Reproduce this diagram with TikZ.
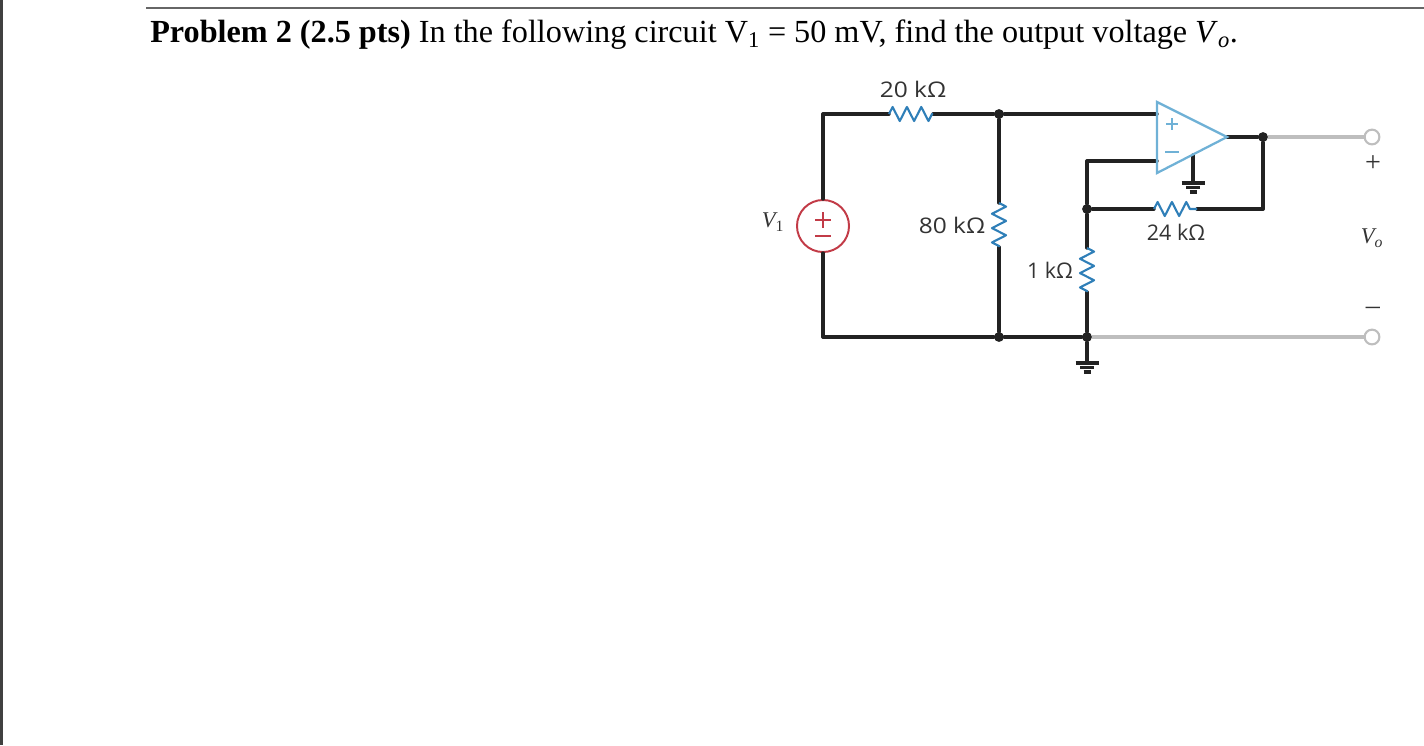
\documentclass[tikz,border=0pt]{standalone}
\usepackage{fontspec}
\setmainfont{Liberation Serif}
\newfontfamily\labelfont{Open Sans}
\usetikzlibrary{decorations.pathmorphing}
\definecolor{wirecol}{HTML}{222222}
\definecolor{ampcol}{HTML}{6FB1D6}
\definecolor{rescol}{HTML}{2F7FB8}
\definecolor{srccol}{HTML}{C23B47}
\definecolor{greycol}{HTML}{BEBEBE}
\definecolor{textcol}{HTML}{333333}
\tikzset{
    wire/.style={draw=wirecol, line width=2.4pt},
    lead/.style={draw=greycol, line width=2.3pt},
    resistor/.style={draw=rescol, line width=1.5pt, line join=round, decorate,
        decoration={zigzag, segment length=10.2pt, amplitude=5pt}},
    earth/.style={draw=wirecol, line width=2.2pt},
    dot/.style={circle, fill=wirecol, inner sep=0pt, minimum size=7pt},
    terminal/.style={circle, draw=greycol, fill=white, line width=1.5pt, inner sep=0pt, minimum size=10.5pt},
    value/.style={font=\labelfont\fontsize{15.3}{15}\selectfont, text=textcol, inner sep=0pt},
    sign/.style={font=\fontsize{20}{20}\selectfont, text=textcol, inner sep=0pt},
    volt/.style={font=\fontsize{16}{16}\selectfont\itshape, text=textcol, inner sep=0pt}
}
\begin{document}
\begin{tikzpicture}[x=0.025cm,y=-0.025cm]
    \useasboundingbox (0,0) rectangle (1424,745);
    \fill[black!75] (0,0) rectangle (3,745);
    \draw[black!60, line width=1.3pt] (146,8) -- (1424,8);
    \node[anchor=base west, inner sep=0pt, font=\fontsize{22.9}{24}\selectfont] (title) at (150,42)
        {\textbf{Problem 2 (2.5 pts)} In the following circuit V\textsubscript{1} = 50 mV, find the output voltage \textit{V}\textsubscript{\textit{o}}.};

    \node[circle, draw=srccol, line width=1.4pt, inner sep=0pt, minimum size=37pt] (src) at (823,226) {};
    \node[dot] (top) at (999,114) {};
    \node[dot] (bot) at (999,337) {};
    \node[dot] (gnd) at (1087,337) {};
    \node[dot] (fbin) at (1087,209) {};
    \node[dot] (out) at (1263,137) {};
    \node[terminal] (outp) at (1372,137) {};
    \node[terminal] (outn) at (1372,337) {};

    \coordinate (tl) at (823,114);
    \coordinate (bl) at (823,337);
    \coordinate (r20a) at (889,114);
    \coordinate (r20b) at (933,114);
    \coordinate (r80a) at (999,203);
    \coordinate (r80b) at (999,247);
    \coordinate (r1a) at (1087,248);
    \coordinate (r1b) at (1087,292);
    \coordinate (r24a) at (1154,209);
    \coordinate (r24b) at (1197,209);
    \coordinate (ampa) at (1157,102);
    \coordinate (ampb) at (1157,173);
    \coordinate (ampc) at (1227,137);
    \coordinate (inp) at (1157,114);
    \coordinate (inn) at (1157,161);
    \coordinate (inl) at (1087,161);
    \coordinate (fbr) at (1263,209);
    \coordinate (ampg) at (1193,155);
    \coordinate (ampe) at (1193,183);
    \coordinate (gnde) at (1087,363);

    \foreach \k/\l in {tl/r20a, r20b/top, top/inp, top/r80a, r80b/bot, bl/bot, bot/gnd,
        gnd/r1b, gnd/gnde, r1a/fbin, fbin/inl, inl/inn, fbin/r24a, r24b/fbr, fbr/out,
        ampc/out, ampg/ampe, src/tl, src/bl}{
        \draw[wire, line cap=round](\k)--(\l);
    }
    \foreach \k/\l in {r20a/r20b, r80a/r80b, r1a/r1b, r24a/r24b}{\draw[resistor](\k)--(\l);}
    \draw[lead](out)--(outp);
    \draw[lead](gnd)--(outn);

    \draw[draw=ampcol, line width=1.6pt, line join=miter](ampa)--(ampb)--(ampc)--cycle;
    \draw[ampcol, line width=0.8pt] (1166,124) -- (1178,124) (1172,118) -- (1172,130);
    \draw[ampcol, line width=0.8pt] (1165,152) -- (1179,152);
    \draw[srccol, line width=0.9pt] (815,220) -- (831,220) (823,212) -- (823,228) (815,236) -- (831,236);

    \foreach \x/\y in {1193/183, 1087/363}{
        \draw[earth] (\x-11.5,\y) -- (\x+11.5,\y);
        \draw[earth] (\x-7,\y+4.5) -- (\x+7,\y+4.5);
        \draw[earth] (\x-3.5,\y+9) -- (\x+3.5,\y+9);
    }

    \node[value, xscale=1.14] (l20) at (913,89) {20 kΩ};
    \node[value, xscale=1.14] (l80) at (952,225) {80 kΩ};
    \node[value] (l1) at (1050,270) {1 kΩ};
    \node[value] (l24) at (1176,232) {24 kΩ};
    \node[volt] (lv1) at (773,222) {V\textsubscript{\upshape 1}};
    \node[volt] (lvo) at (1372,238) {V\textsubscript{o}};
    \node[sign] (lp) at (1373,164) {+};
    \node[sign] (lm) at (1373,311) {--};
\end{tikzpicture}
\end{document}
